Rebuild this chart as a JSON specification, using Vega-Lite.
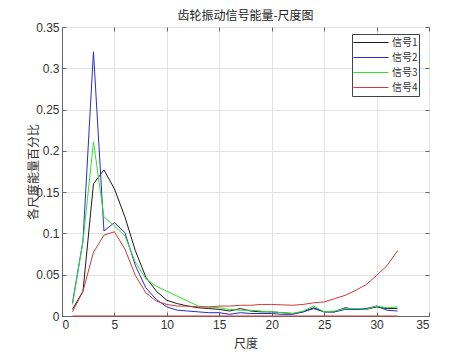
{
  "$schema": "https://vega.github.io/schema/vega-lite/v6.json",
  "width": 367,
  "height": 289,
  "autosize": {"type": "none"},
  "padding": {"left": 62, "top": 27, "right": 45, "bottom": 39},
  "background": "white",
  "title": {"text": "齿轮振动信号能量-尺度图", "font": "Noto Sans CJK SC", "fontSize": 12, "fontWeight": "normal", "color": "#222", "offset": -2},
  "config": {
    "view": {"stroke": "#666", "strokeWidth": 1},
    "axis": {"labelFont": "Liberation Sans", "labelFontSize": 12, "labelColor": "#333", "titleFont": "Noto Sans CJK SC", "titleFontSize": 12, "titleFontWeight": "normal", "titleColor": "#333", "gridColor": "#e3e3e3", "domainColor": "#666", "tickColor": "#666", "tickSize": -4, "labelPadding": 7}
  },
  "resolve": {"axis": {"x": "independent", "y": "independent"}},
  "datasets": {
    "signals": [
      {"scale":1,"series":"信号1","value":0.008},{"scale":2,"series":"信号1","value":0.03},{"scale":3,"series":"信号1","value":0.16},{"scale":4,"series":"信号1","value":0.177},{"scale":5,"series":"信号1","value":0.154},{"scale":6,"series":"信号1","value":0.12},{"scale":7,"series":"信号1","value":0.079},{"scale":8,"series":"信号1","value":0.047},{"scale":9,"series":"信号1","value":0.03},{"scale":10,"series":"信号1","value":0.019},{"scale":11,"series":"信号1","value":0.015},{"scale":12,"series":"信号1","value":0.012},{"scale":13,"series":"信号1","value":0.01},{"scale":14,"series":"信号1","value":0.009},{"scale":15,"series":"信号1","value":0.008},{"scale":16,"series":"信号1","value":0.006},{"scale":17,"series":"信号1","value":0.009},{"scale":18,"series":"信号1","value":0.006},{"scale":19,"series":"信号1","value":0.005},{"scale":20,"series":"信号1","value":0.005},{"scale":21,"series":"信号1","value":0.004},{"scale":22,"series":"信号1","value":0.003},{"scale":23,"series":"信号1","value":0.005},{"scale":24,"series":"信号1","value":0.01},{"scale":25,"series":"信号1","value":0.005},{"scale":26,"series":"信号1","value":0.005},{"scale":27,"series":"信号1","value":0.01},{"scale":28,"series":"信号1","value":0.008},{"scale":29,"series":"信号1","value":0.008},{"scale":30,"series":"信号1","value":0.011},{"scale":31,"series":"信号1","value":0.009},{"scale":32,"series":"信号1","value":0.009},
      {"scale":1,"series":"信号2","value":0.016},{"scale":2,"series":"信号2","value":0.091},{"scale":3,"series":"信号2","value":0.32},{"scale":4,"series":"信号2","value":0.103},{"scale":5,"series":"信号2","value":0.113},{"scale":6,"series":"信号2","value":0.101},{"scale":7,"series":"信号2","value":0.061},{"scale":8,"series":"信号2","value":0.034},{"scale":9,"series":"信号2","value":0.02},{"scale":10,"series":"信号2","value":0.011},{"scale":11,"series":"信号2","value":0.007},{"scale":12,"series":"信号2","value":0.006},{"scale":13,"series":"信号2","value":0.005},{"scale":14,"series":"信号2","value":0.004},{"scale":15,"series":"信号2","value":0.004},{"scale":16,"series":"信号2","value":0.002},{"scale":17,"series":"信号2","value":0.004},{"scale":18,"series":"信号2","value":0.003},{"scale":19,"series":"信号2","value":0.003},{"scale":20,"series":"信号2","value":0.003},{"scale":21,"series":"信号2","value":0.002},{"scale":22,"series":"信号2","value":0.002},{"scale":23,"series":"信号2","value":0.005},{"scale":24,"series":"信号2","value":0.009},{"scale":25,"series":"信号2","value":0.005},{"scale":26,"series":"信号2","value":0.005},{"scale":27,"series":"信号2","value":0.008},{"scale":28,"series":"信号2","value":0.008},{"scale":29,"series":"信号2","value":0.009},{"scale":30,"series":"信号2","value":0.012},{"scale":31,"series":"信号2","value":0.007},{"scale":32,"series":"信号2","value":0.006},
      {"scale":1,"series":"信号3","value":0.014},{"scale":2,"series":"信号3","value":0.09},{"scale":3,"series":"信号3","value":0.211},{"scale":4,"series":"信号3","value":0.12},{"scale":5,"series":"信号3","value":0.109},{"scale":6,"series":"信号3","value":0.097},{"scale":7,"series":"信号3","value":0.065},{"scale":8,"series":"信号3","value":0.045},{"scale":9,"series":"信号3","value":0.036},{"scale":10,"series":"信号3","value":0.03},{"scale":11,"series":"信号3","value":0.024},{"scale":12,"series":"信号3","value":0.018},{"scale":13,"series":"信号3","value":0.012},{"scale":14,"series":"信号3","value":0.011},{"scale":15,"series":"信号3","value":0.01},{"scale":16,"series":"信号3","value":0.008},{"scale":17,"series":"信号3","value":0.007},{"scale":18,"series":"信号3","value":0.007},{"scale":19,"series":"信号3","value":0.006},{"scale":20,"series":"信号3","value":0.005},{"scale":21,"series":"信号3","value":0.004},{"scale":22,"series":"信号3","value":0.003},{"scale":23,"series":"信号3","value":0.006},{"scale":24,"series":"信号3","value":0.012},{"scale":25,"series":"信号3","value":0.005},{"scale":26,"series":"信号3","value":0.006},{"scale":27,"series":"信号3","value":0.009},{"scale":28,"series":"信号3","value":0.009},{"scale":29,"series":"信号3","value":0.008},{"scale":30,"series":"信号3","value":0.012},{"scale":31,"series":"信号3","value":0.01},{"scale":32,"series":"信号3","value":0.011},
      {"scale":1,"series":"信号4","value":0.005},{"scale":2,"series":"信号4","value":0.03},{"scale":3,"series":"信号4","value":0.077},{"scale":4,"series":"信号4","value":0.098},{"scale":5,"series":"信号4","value":0.102},{"scale":6,"series":"信号4","value":0.081},{"scale":7,"series":"信号4","value":0.049},{"scale":8,"series":"信号4","value":0.028},{"scale":9,"series":"信号4","value":0.018},{"scale":10,"series":"信号4","value":0.014},{"scale":11,"series":"信号4","value":0.012},{"scale":12,"series":"信号4","value":0.012},{"scale":13,"series":"信号4","value":0.011},{"scale":14,"series":"信号4","value":0.011},{"scale":15,"series":"信号4","value":0.012},{"scale":16,"series":"信号4","value":0.012},{"scale":17,"series":"信号4","value":0.013},{"scale":18,"series":"信号4","value":0.013},{"scale":19,"series":"信号4","value":0.014},{"scale":20,"series":"信号4","value":0.014},{"scale":21,"series":"信号4","value":0.0135},{"scale":22,"series":"信号4","value":0.013},{"scale":23,"series":"信号4","value":0.014},{"scale":24,"series":"信号4","value":0.016},{"scale":25,"series":"信号4","value":0.017},{"scale":26,"series":"信号4","value":0.021},{"scale":27,"series":"信号4","value":0.025},{"scale":28,"series":"信号4","value":0.031},{"scale":29,"series":"信号4","value":0.038},{"scale":30,"series":"信号4","value":0.049},{"scale":31,"series":"信号4","value":0.061},{"scale":32,"series":"信号4","value":0.079}
    ],
    "zero": [{"scale":1,"value":0},{"scale":32,"value":0}]
  },
  "layer": [
    {
      "data": {"name": "signals"},
      "mark": {"type": "line", "strokeWidth": 1},
      "encoding": {
        "x": {"field": "scale", "type": "quantitative", "scale": {"domain": [0, 35], "nice": false}, "axis": {"values": [0,5,10,15,20,25,30,35], "title": "尺度", "titlePadding": 8, "format": "d"}},
        "y": {"field": "value", "type": "quantitative", "scale": {"domain": [0, 0.35], "nice": false}, "axis": {"values": [0,0.05,0.1,0.15,0.2,0.25,0.3,0.35], "title": "各尺度能量百分比", "titlePadding": -5, "format": "~g"}},
        "color": {"field": "series", "type": "nominal", "scale": {"domain": ["信号1","信号2","信号3","信号4"], "range": ["#1a1a1a","#2a2ad0","#30e030","#d03a3a"]},
          "legend": {"title": null, "orient": "none", "legendX": 290, "legendY": 7, "symbolType": "stroke", "symbolSize": 1225, "symbolStrokeWidth": 1, "clipHeight": 15, "rowPadding": 0, "labelOffset": 3, "padding": 1, "strokeColor": "#444", "fillColor": "white", "labelFont": "Noto Sans CJK SC", "labelFontSize": 10, "labelColor": "#333"}},
        "detail": {"field": "series"}
      }
    },
    {
      "data": {"name": "zero"},
      "mark": {"type": "line", "color": "#d03a3a", "strokeWidth": 1},
      "encoding": {
        "x": {"field": "scale", "type": "quantitative", "axis": {"orient": "top", "values": [0,5,10,15,20,25,30,35], "labels": false, "title": null, "grid": false, "domain": false}},
        "y": {"field": "value", "type": "quantitative", "axis": {"orient": "right", "values": [0,0.05,0.1,0.15,0.2,0.25,0.3,0.35], "labels": false, "title": null, "grid": false, "domain": false}}
      }
    }
  ]
}
